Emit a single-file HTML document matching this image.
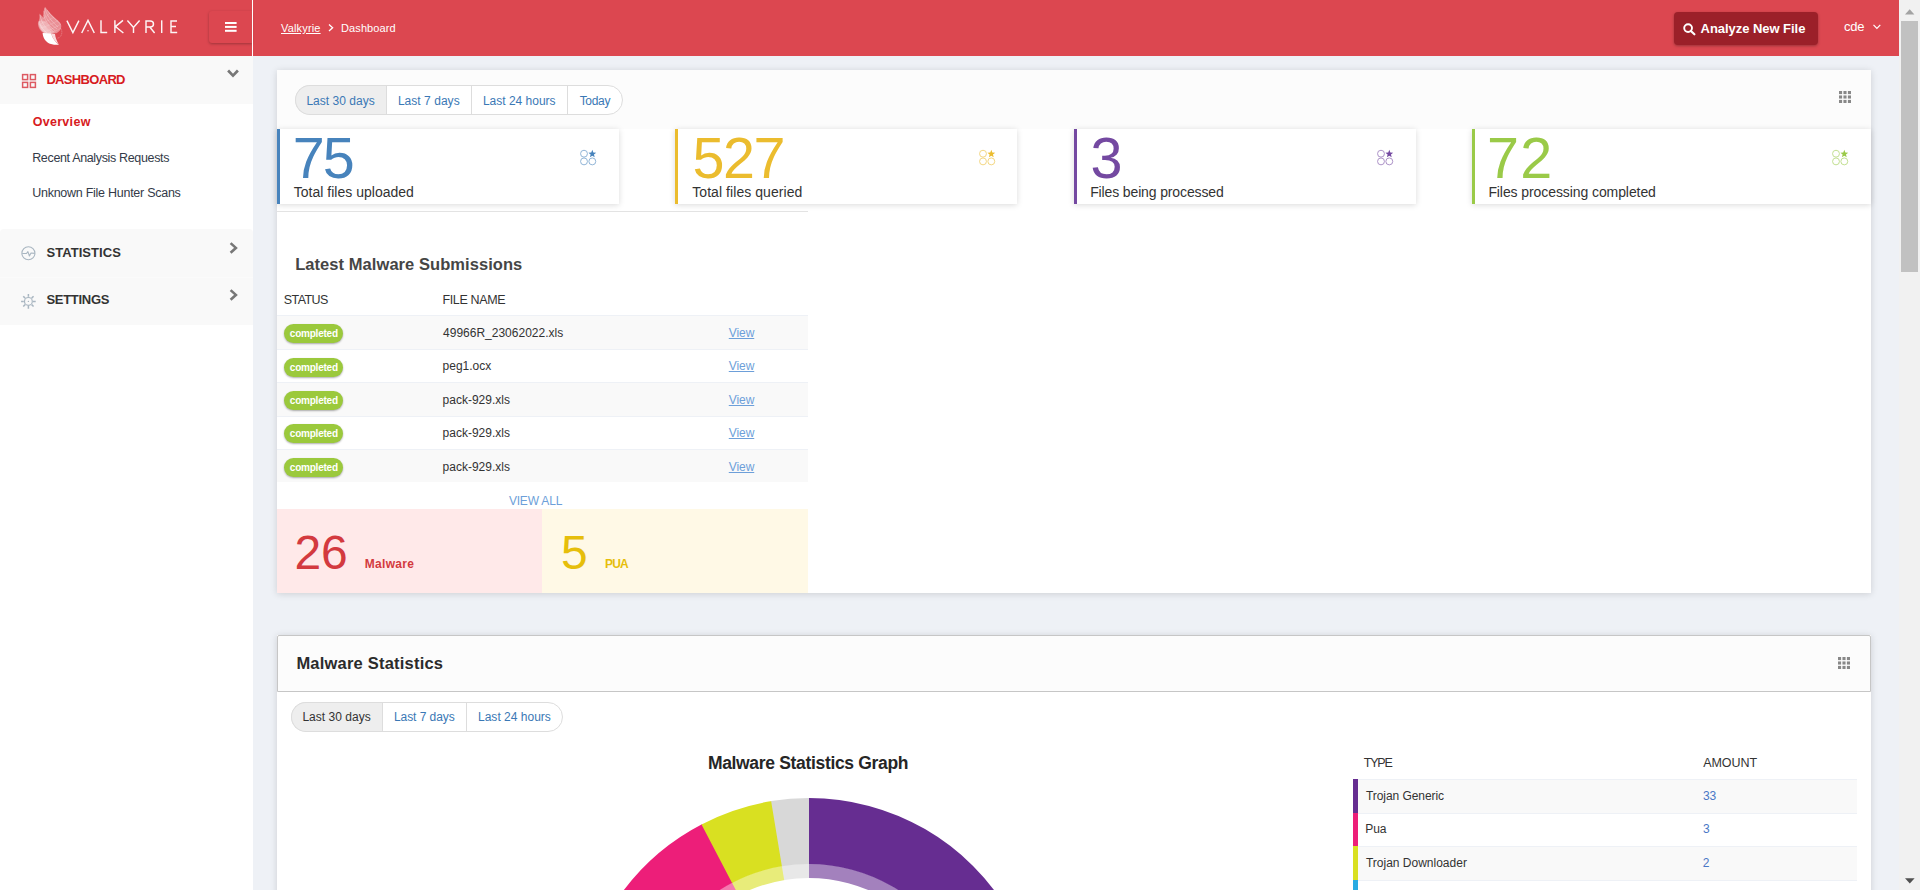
<!DOCTYPE html>
<html><head><meta charset="utf-8"><title>Valkyrie - Dashboard</title>
<style>
html,body{margin:0;padding:0;width:1920px;height:890px;overflow:hidden}
body{background:#eef1f6;font-family:"Liberation Sans",sans-serif;}
#page{position:relative;width:1920px;height:890px;overflow:hidden;background:#eef1f6}
.t{position:absolute;white-space:nowrap;line-height:1;margin:0;padding:0}
.r{position:absolute}
svg{position:absolute;overflow:visible}
</style></head><body><div id="page">
<div class="r" style="left:0px;top:0px;width:1899px;height:56px;background:#dc4750;"></div>
<div class="r" style="left:0px;top:56px;width:253px;height:834px;background:#ffffff;"></div>
<div class="r" style="left:252px;top:0px;width:1px;height:56px;background:#ffffff;"></div>
<div class="r" style="left:0px;top:56px;width:253px;height:48px;background:#f9f9f9;"></div>
<div class="r" style="left:0px;top:229px;width:253px;height:48px;background:#f9f9f9;border-radius:4px 4px 0 0;"></div>
<div class="r" style="left:0px;top:277px;width:253px;height:48px;background:#f9f9f9;border-top:1px solid #fbfbfb;box-sizing:border-box;"></div>
<div class="r" style="left:209px;top:11px;width:43px;height:32px;background:#dc4750;border-radius:3px 0 0 3px;box-shadow:0 1px 3px rgba(0,0,0,.28);"></div>
<div class="r" style="left:252px;top:0px;width:1px;height:56px;background:#ffffff;"></div>
<svg style="left:224.6px;top:22.2px" width="12" height="10" viewBox="0 0 12 10"><rect x="0" y="0" width="11.6" height="2" fill="#fff"/><rect x="0" y="3.9" width="11.6" height="2" fill="#fff"/><rect x="0" y="7.8" width="11.6" height="2" fill="#fff"/></svg>
<svg style="left:30px;top:0px" width="160" height="56" viewBox="30 0 160 56">
<g fill="#fff">
<path opacity=".40" d="M45,6.8 C47,9.6 50,13.2 54,17 C58,20.5 61.3,23 61.3,26.2 C61.3,29.2 59.6,31.4 56.5,33.2 L44.5,33.6 C40.5,31.5 37.9,27.5 37.9,23.3 C39.3,20 40.1,17 39.4,13.4 C40.8,15 42.3,16.2 43.5,17.4 C43,13.2 43.5,10 45,6.8 Z"/>
<path opacity=".30" d="M38.4,22 C41,19.5 45,20.5 47.5,23.5 C50,26.5 52,30 55,32.6 L45,33.3 C41,31 38.6,27 38.4,22Z"/>
<path opacity=".22" d="M39,24 C42,24 45,26 47,29 C48,31 50,32.5 52,33.2 L45.5,33.4 C42,31.5 39.8,28.5 39,24Z"/>
<path d="M42.6,32.9 C43,38 46,42.6 51,44 C54,44.9 57,45 58.9,44.7 C55.5,42.5 52.6,38.5 51,33.3 Z"/>
<path opacity=".8" d="M51,33.3 C52.2,37.5 54.6,41.5 58.9,44.7 C56.8,41 55.4,37.4 55,33.9 Z"/>
</g>
<g stroke="#fff" fill="none" stroke-width=".55" opacity=".5">
<path d="M45,8 C46,14 50,20 58,27"/><path d="M44,11 C45,17 49,23 57,29"/><path d="M43.8,15 C45,21 49,26 55.5,31"/>
<path d="M40,15 C41,21 44,27 51,32"/><path d="M39,21 C40,26 43,30 47,33"/><path d="M47,10 C50,15 55,19 60.5,24"/>
</g>
<g stroke="#fff" fill="none" stroke-width=".45" opacity=".35">
<path d="M41,20 C45,18 48,15 50,13"/><path d="M40,24 C46,22 51,19 54,17"/><path d="M41,28 C48,26 54,23 58,20.5"/><path d="M44,32 C50,30 56,27 61,24"/><path d="M49,33 C54,32 58,30 61,28"/>
</g>
<g stroke="#fff" fill="none" stroke-width=".5" opacity=".5">
<path d="M60.8,28.5 C61.9,30.3 62.2,32.5 61.5,34.3 C61,36.2 60,37.8 57.2,38.2" stroke-dasharray="1.4 .7"/>
</g>
<g stroke="#fff" fill="none" stroke-width="1.45" stroke-linecap="butt" stroke-linejoin="miter" opacity=".95">
<path d="M66.9,20.6 L72.9,32.6 L78.9,20.6"/>
<path d="M81.7,33 L88,20.4 L94.3,33"/>
<path d="M101,20.3 L101,32.4 L107.2,32.4"/>
<path d="M114.9,20.3 L114.9,33 M123,20.4 L115.4,26.6 L123.4,33"/>
<path d="M127.4,20.4 L133.5,27.4 L139.6,20.4 M133.5,27.2 L133.5,33"/>
<path d="M146,33 L146,20.9 L150.2,20.9 C154.6,20.9 154.6,27 150.2,27 L146,27 M149.8,27 L154.6,33"/>
<path d="M161.7,20.3 L161.7,33"/>
<path d="M177,20.9 L171,20.9 L171,32.4 L177.2,32.4 M171,26.5 L176,26.5"/>
</g>
<circle cx="88" cy="30.7" r=".8" fill="#fff" opacity=".9"/>
</svg>
<div class="t" style="left:281.00px;top:23.00px;font-size:11px;color:#fff;letter-spacing:0.161px;text-decoration:underline;text-underline-offset:1px;">Valkyrie</div>
<svg style="left:328px;top:24px" width="6" height="8" viewBox="0 0 6 8"><path d="M1,0.6 L4.6,3.8 L1,7" stroke="#fff" stroke-width="1.3" fill="none"/></svg>
<div class="t" style="left:341.02px;top:23.00px;font-size:11px;color:#fff;letter-spacing:0.106px;">Dashboard</div>
<div class="r" style="left:1674px;top:12.2px;width:144px;height:33.3px;background:#9b2029;border-radius:4px;box-shadow:0 1px 3px rgba(0,0,0,.3);"></div>
<svg style="left:1683.2px;top:23px" width="13" height="13" viewBox="0 0 13 13"><circle cx="5.1" cy="5.1" r="3.9" stroke="#fff" stroke-width="1.9" fill="none"/><path d="M7.9,8 L11.4,11.3" stroke="#fff" stroke-width="2.2" stroke-linecap="round"/></svg>
<div class="t" style="left:1700.62px;top:22.00px;font-size:13px;color:#fff;font-weight:bold;letter-spacing:-0.048px;">Analyze New File</div>
<div class="t" style="left:1843.90px;top:20.00px;font-size:13px;color:#fff;letter-spacing:-0.238px;">cde</div>
<svg style="left:1873px;top:24px" width="8" height="6" viewBox="0 0 8 6"><path d="M0.5,0.8 L3.9,4.4 L7.3,0.8" stroke="#fff" stroke-width="1.2" fill="none"/></svg>
<svg style="left:21.5px;top:73.5px" width="14" height="14" viewBox="0 0 14 14" fill="none" stroke="#dd5a62" stroke-width="1.5"><rect x=".6" y=".6" width="5" height="5"/><rect x="8.4" y=".6" width="5" height="5"/><rect x=".6" y="8.4" width="5" height="5"/><rect x="8.4" y="8.4" width="5" height="5"/></svg>
<div class="t" style="left:46.42px;top:73.00px;font-size:13.0px;color:#d71a21;font-weight:bold;letter-spacing:-0.678px;">DASHBOARD</div>
<svg style="left:226.6px;top:69px" width="12" height="10" viewBox="0 0 12 10"><path d="M1.1,1.5 L6,6.6 L10.9,1.5" stroke="#777" stroke-width="2.7" fill="none"/></svg>
<div class="t" style="left:32.70px;top:116.00px;font-size:12.5px;color:#d71a21;font-weight:bold;letter-spacing:0.296px;">Overview</div>
<div class="t" style="left:32.20px;top:152.00px;font-size:12.5px;color:#333a48;letter-spacing:-0.346px;">Recent Analysis Requests</div>
<div class="t" style="left:32.20px;top:187.00px;font-size:12.5px;color:#333a48;letter-spacing:-0.261px;">Unknown File Hunter Scans</div>
<svg style="left:21px;top:246px" width="15" height="15" viewBox="21 246 15 15" fill="none" stroke="#a9b6c1" stroke-width="1.1"><circle cx="28.4" cy="253.3" r="6.5"/><path d="M22.2,253.5 L26.5,253.5 L27.9,251.6 L29.4,256 L31,253 L34.8,253.4" stroke-linejoin="round"/></svg>
<div class="t" style="left:46.42px;top:246.00px;font-size:13.0px;color:#333;font-weight:bold;letter-spacing:0.067px;">STATISTICS</div>
<svg style="left:229px;top:241.6px" width="10" height="12" viewBox="0 0 10 12"><path d="M1.6,1.1 L6.9,5.9 L1.6,10.8" stroke="#777" stroke-width="2.6" fill="none"/></svg>
<svg style="left:20px;top:293px" width="17" height="17" viewBox="20 293 17 17" fill="none" stroke="#a9b6c1" stroke-width="1.2"><circle cx="28.4" cy="301.4" r="3.9"/><path d="M33.00,301.40 L35.70,301.40 M31.65,304.65 L33.56,306.56 M28.40,306.00 L28.40,308.70 M25.15,304.65 L23.24,306.56 M23.80,301.40 L21.10,301.40 M25.15,298.15 L23.24,296.24 M28.40,296.80 L28.40,294.10 M31.65,298.15 L33.56,296.24 " stroke-width="1.5"/><circle cx="28.4" cy="301.4" r=".7" fill="#a9b6c1" stroke="none"/></svg>
<div class="t" style="left:46.42px;top:293.00px;font-size:13.0px;color:#333;font-weight:bold;letter-spacing:-0.289px;">SETTINGS</div>
<svg style="left:229px;top:289.3px" width="10" height="12" viewBox="0 0 10 12"><path d="M1.6,1.1 L6.9,5.9 L1.6,10.8" stroke="#777" stroke-width="2.6" fill="none"/></svg>
<div class="r" style="left:1899px;top:0px;width:21px;height:890px;background:#f1f1f1;"></div>
<div class="r" style="left:1901px;top:21px;width:17px;height:251px;background:#c1c1c1;"></div>
<svg style="left:1905px;top:8.5px" width="10" height="6" viewBox="0 0 10 6"><path d="M0,5.6 L4.7,0.2 L9.4,5.6Z" fill="#a3a3a3"/></svg>
<svg style="left:1904.5px;top:877.7px" width="10" height="6" viewBox="0 0 10 6"><path d="M0,0.2 L9.6,0.2 L4.8,5.6Z" fill="#505050"/></svg>
<div class="r" style="left:277px;top:70px;width:1594px;height:523px;background:#ffffff;box-shadow:0 1px 7px rgba(0,0,0,.14);"></div>
<div class="r" style="left:277px;top:70px;width:1594px;height:59px;background:#fcfcfc;"></div>
<svg style="left:1839px;top:91px" width="12" height="12" viewBox="0 0 12 12" fill="#888"><rect x="0.00" y="0.00" width="3.1" height="3.1"/><rect x="0.00" y="4.45" width="3.1" height="3.1"/><rect x="0.00" y="8.90" width="3.1" height="3.1"/><rect x="4.45" y="0.00" width="3.1" height="3.1"/><rect x="4.45" y="4.45" width="3.1" height="3.1"/><rect x="4.45" y="8.90" width="3.1" height="3.1"/><rect x="8.90" y="0.00" width="3.1" height="3.1"/><rect x="8.90" y="4.45" width="3.1" height="3.1"/><rect x="8.90" y="8.90" width="3.1" height="3.1"/></svg>
<div class="r" style="left:295px;top:85px;width:327.6px;height:30px;background:#ffffff;border:1px solid #ddd;border-radius:15px;box-sizing:border-box;overflow:hidden;"></div>
<div class="r" style="left:295px;top:85px;width:91.5px;height:30px;background:#eeeeee;border:1px solid #ddd;border-right:none;border-radius:15px 0 0 15px;box-sizing:border-box"></div>
<div class="r" style="left:386.0px;top:85px;width:1px;height:30px;background:#dddddd;"></div>
<div class="r" style="left:471.0px;top:85px;width:1px;height:30px;background:#dddddd;"></div>
<div class="r" style="left:567.0px;top:85px;width:1px;height:30px;background:#dddddd;"></div>
<div class="t" style="left:306.40px;top:95.00px;font-size:12px;color:#3a78b5;letter-spacing:0.025px;">Last 30 days</div>
<div class="t" style="left:397.90px;top:95.00px;font-size:12px;color:#3a78b5;letter-spacing:0.040px;">Last 7 days</div>
<div class="t" style="left:482.90px;top:95.00px;font-size:12px;color:#3a78b5;">Last 24 hours</div>
<div class="t" style="left:579.65px;top:95.00px;font-size:12px;color:#3a78b5;letter-spacing:-0.312px;">Today</div>
<div class="r" style="left:277px;top:129px;width:342px;height:75px;background:#ffffff;border-left:3px solid #4783bc;box-sizing:border-box;box-shadow:0 1px 6px rgba(0,0,0,.15);"></div>
<div class="t" style="left:292.73px;top:130.00px;font-size:57.5px;color:#4783bc;letter-spacing:-1.850px;">75</div>
<div class="t" style="left:293.75px;top:185.00px;font-size:14px;color:#333;letter-spacing:0.013px;">Total files uploaded</div>
<svg style="left:580px;top:150px" width="17" height="16" viewBox="0 0 17 16"><g fill="none" stroke="#4783bc" stroke-width=".95" opacity=".62"><circle cx="4.0" cy="3.7" r="3.45"/><circle cx="4.0" cy="11.4" r="3.45"/><circle cx="12.3" cy="11.4" r="3.45"/></g><polygon points="12.30,-0.20 13.33,2.48 16.20,2.63 13.96,4.44 14.71,7.22 12.30,5.65 9.89,7.22 10.64,4.44 8.40,2.63 11.27,2.48" fill="#4783bc"/></svg>
<div class="r" style="left:675px;top:129px;width:342px;height:75px;background:#ffffff;border-left:3px solid #ebbc2e;box-sizing:border-box;box-shadow:0 1px 6px rgba(0,0,0,.15);"></div>
<div class="t" style="left:692.45px;top:130.00px;font-size:57.5px;color:#ebbc2e;letter-spacing:-1.438px;">527</div>
<div class="t" style="left:692.25px;top:185.00px;font-size:14px;color:#333;letter-spacing:0.064px;">Total files queried</div>
<svg style="left:978.5px;top:150px" width="17" height="16" viewBox="0 0 17 16"><g fill="none" stroke="#ebbc2e" stroke-width=".95" opacity=".62"><circle cx="4.0" cy="3.7" r="3.45"/><circle cx="4.0" cy="11.4" r="3.45"/><circle cx="12.3" cy="11.4" r="3.45"/></g><polygon points="12.30,-0.20 13.33,2.48 16.20,2.63 13.96,4.44 14.71,7.22 12.30,5.65 9.89,7.22 10.64,4.44 8.40,2.63 11.27,2.48" fill="#ebbc2e"/></svg>
<div class="r" style="left:1074px;top:129px;width:342px;height:75px;background:#ffffff;border-left:3px solid #7449a1;box-sizing:border-box;box-shadow:0 1px 6px rgba(0,0,0,.15);"></div>
<div class="t" style="left:1090.55px;top:130.00px;font-size:57.5px;color:#7449a1;">3</div>
<div class="t" style="left:1090.17px;top:185.00px;font-size:14px;color:#333;letter-spacing:-0.131px;">Files being processed</div>
<svg style="left:1377px;top:150px" width="17" height="16" viewBox="0 0 17 16"><g fill="none" stroke="#7449a1" stroke-width=".95" opacity=".62"><circle cx="4.0" cy="3.7" r="3.45"/><circle cx="4.0" cy="11.4" r="3.45"/><circle cx="12.3" cy="11.4" r="3.45"/></g><polygon points="12.30,-0.20 13.33,2.48 16.20,2.63 13.96,4.44 14.71,7.22 12.30,5.65 9.89,7.22 10.64,4.44 8.40,2.63 11.27,2.48" fill="#7449a1"/></svg>
<div class="r" style="left:1472px;top:129px;width:399px;height:75px;background:#ffffff;border-left:3px solid #9aca48;box-sizing:border-box;box-shadow:0 1px 6px rgba(0,0,0,.15);"></div>
<div class="t" style="left:1487.12px;top:130.00px;font-size:57.5px;color:#9aca48;letter-spacing:1.050px;">72</div>
<div class="t" style="left:1488.38px;top:185.00px;font-size:14px;color:#333;letter-spacing:-0.085px;">Files processing completed</div>
<svg style="left:1832px;top:150px" width="17" height="16" viewBox="0 0 17 16"><g fill="none" stroke="#9aca48" stroke-width=".95" opacity=".62"><circle cx="4.0" cy="3.7" r="3.45"/><circle cx="4.0" cy="11.4" r="3.45"/><circle cx="12.3" cy="11.4" r="3.45"/></g><polygon points="12.30,-0.20 13.33,2.48 16.20,2.63 13.96,4.44 14.71,7.22 12.30,5.65 9.89,7.22 10.64,4.44 8.40,2.63 11.27,2.48" fill="#9aca48"/></svg>
<div class="r" style="left:277px;top:211px;width:531px;height:1px;background:#e3e3e3;"></div>
<div class="t" style="left:295.18px;top:256.00px;font-size:16.5px;color:#454545;font-weight:bold;letter-spacing:0.062px;">Latest Malware Submissions</div>
<div class="t" style="left:283.77px;top:294.00px;font-size:12.5px;color:#333;letter-spacing:-0.570px;">STATUS</div>
<div class="t" style="left:442.40px;top:294.00px;font-size:12.5px;color:#333;letter-spacing:-0.337px;">FILE NAME</div>
<div class="r" style="left:277px;top:315px;width:531px;height:34px;background:#f9f9f9;border-top:1px solid #eef1f6;box-sizing:border-box;"></div>
<div class="r" style="left:284px;top:324px;width:59px;height:19px;border-radius:10px;background:#9bc93c;box-shadow:0 1px 2px rgba(0,0,0,.32)"></div>
<div class="t" style="left:289.82px;top:329.00px;font-size:10px;color:#fff;font-weight:bold;letter-spacing:-0.225px;">completed</div>
<div class="t" style="left:443.05px;top:327.00px;font-size:12px;color:#333;">49966R_23062022.xls</div>
<div class="t" style="left:728.77px;top:327.00px;font-size:12px;color:#6d9fd9;letter-spacing:-0.083px;text-decoration:underline;text-underline-offset:1px;">View</div>
<div class="r" style="left:277px;top:349px;width:531px;height:33px;background:#ffffff;border-top:1px solid #eef1f6;box-sizing:border-box;"></div>
<div class="r" style="left:284px;top:358px;width:59px;height:19px;border-radius:10px;background:#9bc93c;box-shadow:0 1px 2px rgba(0,0,0,.32)"></div>
<div class="t" style="left:289.82px;top:363.00px;font-size:10px;color:#fff;font-weight:bold;letter-spacing:-0.225px;">completed</div>
<div class="t" style="left:442.55px;top:360.00px;font-size:12px;color:#333;">peg1.ocx</div>
<div class="t" style="left:728.77px;top:360.00px;font-size:12px;color:#6d9fd9;letter-spacing:-0.083px;text-decoration:underline;text-underline-offset:1px;">View</div>
<div class="r" style="left:277px;top:382px;width:531px;height:34px;background:#f9f9f9;border-top:1px solid #eef1f6;box-sizing:border-box;"></div>
<div class="r" style="left:284px;top:391px;width:59px;height:19px;border-radius:10px;background:#9bc93c;box-shadow:0 1px 2px rgba(0,0,0,.32)"></div>
<div class="t" style="left:289.82px;top:396.00px;font-size:10px;color:#fff;font-weight:bold;letter-spacing:-0.225px;">completed</div>
<div class="t" style="left:442.55px;top:394.00px;font-size:12px;color:#333;">pack-929.xls</div>
<div class="t" style="left:728.77px;top:394.00px;font-size:12px;color:#6d9fd9;letter-spacing:-0.083px;text-decoration:underline;text-underline-offset:1px;">View</div>
<div class="r" style="left:277px;top:416px;width:531px;height:33px;background:#ffffff;border-top:1px solid #eef1f6;box-sizing:border-box;"></div>
<div class="r" style="left:284px;top:424px;width:59px;height:19px;border-radius:10px;background:#9bc93c;box-shadow:0 1px 2px rgba(0,0,0,.32)"></div>
<div class="t" style="left:289.82px;top:429.00px;font-size:10px;color:#fff;font-weight:bold;letter-spacing:-0.225px;">completed</div>
<div class="t" style="left:442.55px;top:427.00px;font-size:12px;color:#333;">pack-929.xls</div>
<div class="t" style="left:728.77px;top:427.00px;font-size:12px;color:#6d9fd9;letter-spacing:-0.083px;text-decoration:underline;text-underline-offset:1px;">View</div>
<div class="r" style="left:277px;top:449px;width:531px;height:33px;background:#f9f9f9;border-top:1px solid #eef1f6;box-sizing:border-box;"></div>
<div class="r" style="left:284px;top:458px;width:59px;height:19px;border-radius:10px;background:#9bc93c;box-shadow:0 1px 2px rgba(0,0,0,.32)"></div>
<div class="t" style="left:289.82px;top:463.00px;font-size:10px;color:#fff;font-weight:bold;letter-spacing:-0.225px;">completed</div>
<div class="t" style="left:442.55px;top:461.00px;font-size:12px;color:#333;">pack-929.xls</div>
<div class="t" style="left:728.77px;top:461.00px;font-size:12px;color:#6d9fd9;letter-spacing:-0.083px;text-decoration:underline;text-underline-offset:1px;">View</div>
<div class="t" style="left:508.88px;top:495.00px;font-size:12px;color:#6d9fd9;letter-spacing:-0.175px;">VIEW ALL</div>
<div class="r" style="left:277px;top:509px;width:265px;height:84px;background:#ffe9e9;"></div>
<div class="r" style="left:542px;top:509px;width:266px;height:84px;background:#fff9e6;"></div>
<div class="t" style="left:294.52px;top:529.00px;font-size:48.0px;color:#d33a3f;letter-spacing:-0.100px;">26</div>
<div class="t" style="left:364.85px;top:558.00px;font-size:12.0px;color:#d33a3f;font-weight:bold;letter-spacing:0.279px;">Malware</div>
<div class="t" style="left:561.12px;top:529.00px;font-size:48.0px;color:#e6be0b;">5</div>
<div class="t" style="left:605.05px;top:558.00px;font-size:12.0px;color:#e6be0b;font-weight:bold;letter-spacing:-0.825px;">PUA</div>
<div class="r" style="left:277px;top:635px;width:1594px;height:300px;background:#ffffff;box-shadow:0 1px 7px rgba(0,0,0,.14);"></div>
<div class="r" style="left:277px;top:635px;width:1594px;height:57px;background:#fcfcfc;border:1px solid #c6c6c6;box-sizing:border-box;border-radius:2px 2px 0 0;"></div>
<div class="t" style="left:296.38px;top:655.00px;font-size:16.5px;color:#2b2b2b;font-weight:bold;letter-spacing:0.209px;">Malware Statistics</div>
<svg style="left:1838px;top:657px" width="12" height="12" viewBox="0 0 12 12" fill="#888"><rect x="0.00" y="0.00" width="3.1" height="3.1"/><rect x="0.00" y="4.45" width="3.1" height="3.1"/><rect x="0.00" y="8.90" width="3.1" height="3.1"/><rect x="4.45" y="0.00" width="3.1" height="3.1"/><rect x="4.45" y="4.45" width="3.1" height="3.1"/><rect x="4.45" y="8.90" width="3.1" height="3.1"/><rect x="8.90" y="0.00" width="3.1" height="3.1"/><rect x="8.90" y="4.45" width="3.1" height="3.1"/><rect x="8.90" y="8.90" width="3.1" height="3.1"/></svg>
<div class="r" style="left:291px;top:702px;width:271.70000000000005px;height:30px;background:#ffffff;border:1px solid #ddd;border-radius:15px;box-sizing:border-box;overflow:hidden;"></div>
<div class="r" style="left:291px;top:702px;width:91.5px;height:30px;background:#eeeeee;border:1px solid #ddd;border-right:none;border-radius:15px 0 0 15px;box-sizing:border-box"></div>
<div class="r" style="left:382.0px;top:702px;width:1px;height:30px;background:#dddddd;"></div>
<div class="r" style="left:466.1px;top:702px;width:1px;height:30px;background:#dddddd;"></div>
<div class="t" style="left:302.40px;top:711.00px;font-size:12px;color:#333;letter-spacing:0.025px;">Last 30 days</div>
<div class="t" style="left:393.90px;top:711.00px;font-size:12px;color:#3a78b5;letter-spacing:-0.050px;">Last 7 days</div>
<div class="t" style="left:478.00px;top:711.00px;font-size:12px;color:#3a78b5;letter-spacing:0.010px;">Last 24 hours</div>
<div class="t" style="left:707.88px;top:755.00px;font-size:17.5px;color:#262626;font-weight:bold;letter-spacing:-0.325px;">Malware Statistics Graph</div>
<svg style="left:560px;top:790px" width="500" height="100" viewBox="560 790 500 100" shape-rendering="geometricPrecision"><path d="M664.81,946.75 A166.5,166.5 0 0 1 732.51,882.11 L739.17,894.99 A152.0,152.0 0 0 0 677.36,954.00 Z" fill="#f478af" fill-opacity="1"/><path d="M731.86,882.45 A166.5,166.5 0 0 1 782.52,865.62 L784.83,879.93 A152.0,152.0 0 0 0 738.58,895.30 Z" fill="#e8ec7a" fill-opacity="1"/><path d="M781.81,865.74 A166.5,166.5 0 0 1 809.73,863.50 L809.66,878.00 A152.0,152.0 0 0 0 784.17,880.04 Z" fill="#e8e8e8" fill-opacity="1"/><path d="M809.00,863.50 A166.5,166.5 0 0 1 953.19,946.75 L940.64,954.00 A152.0,152.0 0 0 0 809.00,878.00 Z" fill="#a381bd" fill-opacity="1"/><path d="M608.08,914.00 A232.0,232.0 0 0 1 702.41,823.93 L732.74,882.56 A166.0,166.0 0 0 0 665.24,947.00 Z" fill="#ed1e79" fill-opacity="1"/><path d="M701.52,824.40 A232.0,232.0 0 0 1 772.11,800.95 L782.60,866.11 A166.0,166.0 0 0 0 732.09,882.89 Z" fill="#d9e021" fill-opacity="1"/><path d="M771.11,801.12 A232.0,232.0 0 0 1 810.01,798.00 L809.72,864.00 A166.0,166.0 0 0 0 781.89,866.23 Z" fill="#d8d8d8" fill-opacity="1"/><path d="M809.00,798.00 A232.0,232.0 0 0 1 1009.92,914.00 L952.76,947.00 A166.0,166.0 0 0 0 809.00,864.00 Z" fill="#662d91" fill-opacity="1"/></svg>
<div class="t" style="left:1363.85px;top:757.00px;font-size:12.5px;color:#333;letter-spacing:-1.250px;">TYPE</div>
<div class="t" style="left:1703.20px;top:757.00px;font-size:12.5px;color:#333;letter-spacing:-0.055px;">AMOUNT</div>
<div class="r" style="left:1358px;top:779px;width:499px;height:34px;background:#f9f9f9;border-top:1px solid #eef1f6;box-sizing:border-box;"></div>
<div class="r" style="left:1353px;top:779px;width:5px;height:34px;background:#662d91;"></div>
<div class="t" style="left:1365.95px;top:790.00px;font-size:12px;color:#333;letter-spacing:-0.058px;">Trojan Generic</div>
<div class="t" style="left:1702.90px;top:790.00px;font-size:12px;color:#4a78c6;">33</div>
<div class="r" style="left:1358px;top:813px;width:499px;height:33px;background:#ffffff;border-top:1px solid #eef1f6;box-sizing:border-box;"></div>
<div class="r" style="left:1353px;top:813px;width:5px;height:33px;background:#ed1e79;"></div>
<div class="t" style="left:1365.20px;top:823.00px;font-size:12px;color:#333;">Pua</div>
<div class="t" style="left:1702.90px;top:823.00px;font-size:12px;color:#4a78c6;">3</div>
<div class="r" style="left:1358px;top:846px;width:499px;height:34px;background:#f9f9f9;border-top:1px solid #eef1f6;box-sizing:border-box;"></div>
<div class="r" style="left:1353px;top:846px;width:5px;height:34px;background:#d9e021;"></div>
<div class="t" style="left:1365.95px;top:857.00px;font-size:12px;color:#333;">Trojan Downloader</div>
<div class="t" style="left:1702.78px;top:857.00px;font-size:12px;color:#4a78c6;">2</div>
<div class="r" style="left:1358px;top:880px;width:499px;height:34px;background:#ffffff;border-top:1px solid #eef1f6;box-sizing:border-box;"></div>
<div class="r" style="left:1353px;top:880px;width:5px;height:34px;background:#29abe2;"></div>
</div></body></html>
